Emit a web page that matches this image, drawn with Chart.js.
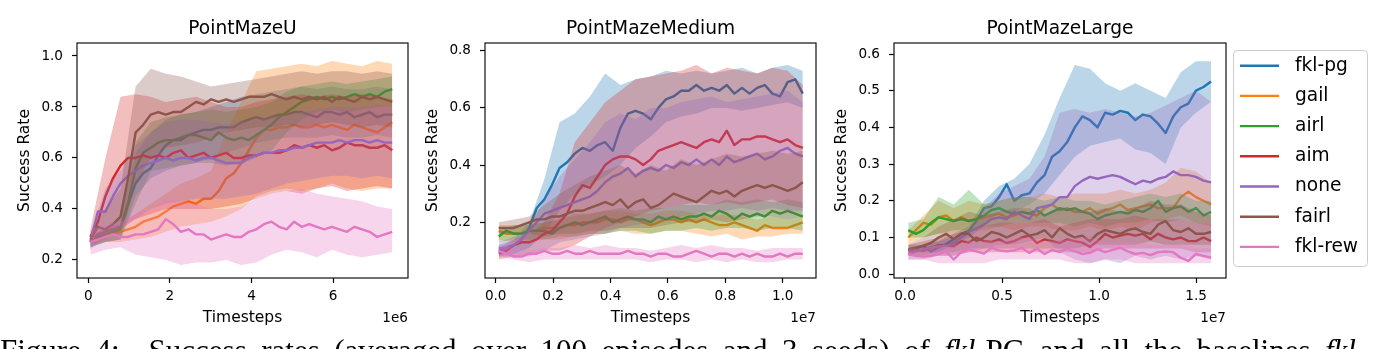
<!DOCTYPE html>
<html lang="en">
<head>
<meta charset="UTF-8">
<title>PointMaze success rates</title>
<script src="https://cdn.jsdelivr.net/npm/chart.js@4"></script>
<style>
  html, body { margin: 0; padding: 0; background: #fff; }
  body { width: 1380px; height: 349px; position: relative; overflow: hidden; }
  canvas { position: absolute; top: 0; }
  #caption {
    position: absolute; left: 0; top: 337px; width: 1356px;
    font-family: "Liberation Serif", serif; font-size: 31px; line-height: 28px;
    white-space: nowrap; text-align: justify; text-align-last: justify; color: #000;
  }
</style>
</head>
<body>
<canvas id="mazeU"></canvas>
<canvas id="mazeMedium"></canvas>
<canvas id="mazeLarge"></canvas>
<div id="caption">Figure 4:&nbsp; Success rates (averaged over 100 episodes and 3 seeds) of <i>fkl</i>-PG and all the baselines <i>fkl</i></div>
<script>
// series, in the order matplotlib drew them
const seriesNames = ['fkl-pg', 'gail', 'airl', 'aim', 'none', 'fairl', 'fkl-rew'];
const seriesColors = ['#1f77b4', '#ff7f0e', '#2ca02c', '#d62728', '#9467bd', '#8c564b', '#e377c2'];

// ---- PointMazeU : first / last evaluated timestep, ticks
const uSteps = [0.05e6, 7.45e6];
const uXTicks = [0, 2e6, 4e6, 6e6];
const uYTicks = [0.2, 0.4, 0.6, 0.8, 1.0];
// mean success rate (41 evaluations)
const uFklPg  = [0.27,0.30,0.31,0.32,0.33,0.42,0.50,0.54,0.56,0.61,0.65,0.67,0.67,0.69,0.70,0.71,0.71,0.72,0.72,0.72,0.74,0.75,0.76,0.75,0.76,0.77,0.77,0.78,0.78,0.77,0.76,0.78,0.78,0.77,0.78,0.76,0.77,0.78,0.76,0.77,0.77];
const uGail   = [0.28,0.29,0.30,0.30,0.31,0.32,0.33,0.35,0.36,0.37,0.39,0.41,0.42,0.43,0.42,0.44,0.44,0.47,0.52,0.54,0.58,0.63,0.68,0.71,0.71,0.72,0.72,0.73,0.72,0.72,0.73,0.72,0.73,0.72,0.71,0.73,0.72,0.71,0.70,0.72,0.74];
const uAirl   = [0.27,0.29,0.30,0.31,0.32,0.42,0.56,0.62,0.64,0.66,0.67,0.67,0.68,0.69,0.69,0.68,0.67,0.70,0.68,0.67,0.68,0.67,0.69,0.71,0.73,0.76,0.78,0.80,0.82,0.83,0.84,0.83,0.84,0.83,0.84,0.85,0.84,0.85,0.84,0.86,0.87];
const uAim    = [0.29,0.35,0.45,0.52,0.57,0.60,0.60,0.61,0.60,0.61,0.60,0.62,0.63,0.60,0.61,0.62,0.60,0.61,0.62,0.60,0.60,0.61,0.61,0.62,0.62,0.62,0.63,0.65,0.64,0.65,0.64,0.65,0.63,0.64,0.66,0.65,0.65,0.64,0.64,0.65,0.63];
const uNone   = [0.27,0.39,0.39,0.45,0.50,0.53,0.55,0.57,0.58,0.59,0.60,0.59,0.60,0.60,0.59,0.60,0.60,0.59,0.58,0.58,0.58,0.60,0.61,0.62,0.62,0.63,0.63,0.64,0.64,0.65,0.66,0.66,0.66,0.67,0.66,0.67,0.67,0.66,0.67,0.66,0.66];
const uFairl  = [0.28,0.33,0.32,0.34,0.37,0.52,0.70,0.73,0.77,0.78,0.77,0.78,0.78,0.80,0.82,0.81,0.83,0.82,0.83,0.82,0.83,0.84,0.84,0.84,0.85,0.84,0.83,0.84,0.83,0.84,0.83,0.84,0.82,0.84,0.83,0.82,0.84,0.83,0.84,0.83,0.82];
const uFklRew = [0.27,0.28,0.29,0.30,0.29,0.29,0.30,0.30,0.31,0.32,0.36,0.34,0.31,0.32,0.30,0.30,0.28,0.29,0.30,0.29,0.29,0.31,0.32,0.34,0.35,0.33,0.32,0.35,0.33,0.34,0.33,0.32,0.33,0.32,0.31,0.33,0.32,0.31,0.29,0.30,0.31];
// spread across seeds (21 evaluations)
const uFklPgLo  = [0.25,0.27,0.28,0.45,0.52,0.55,0.57,0.58,0.60,0.62,0.64,0.66,0.67,0.68,0.68,0.68,0.69,0.68,0.68,0.69,0.68];
const uFklPgHi  = [0.29,0.33,0.36,0.62,0.70,0.75,0.77,0.78,0.80,0.82,0.84,0.85,0.86,0.87,0.88,0.87,0.88,0.87,0.87,0.88,0.87];
const uGailLo   = [0.26,0.27,0.27,0.28,0.29,0.31,0.33,0.34,0.35,0.37,0.40,0.45,0.47,0.48,0.47,0.48,0.50,0.48,0.47,0.48,0.48];
const uGailHi   = [0.30,0.32,0.34,0.38,0.42,0.46,0.50,0.52,0.55,0.70,0.82,0.94,0.95,0.96,0.97,0.96,0.98,0.97,0.96,0.98,0.97];
const uAirlLo   = [0.25,0.27,0.28,0.42,0.55,0.56,0.57,0.58,0.58,0.57,0.58,0.60,0.63,0.70,0.75,0.78,0.79,0.78,0.79,0.80,0.80];
const uAirlHi   = [0.29,0.32,0.34,0.66,0.74,0.76,0.77,0.78,0.79,0.78,0.79,0.80,0.82,0.86,0.88,0.89,0.90,0.89,0.90,0.91,0.92];
const uAimLo    = [0.26,0.28,0.32,0.36,0.38,0.40,0.40,0.40,0.40,0.41,0.42,0.44,0.46,0.47,0.46,0.48,0.49,0.47,0.48,0.49,0.48];
const uAimHi    = [0.32,0.60,0.84,0.85,0.84,0.82,0.83,0.84,0.82,0.80,0.80,0.82,0.83,0.84,0.85,0.84,0.85,0.84,0.85,0.84,0.83];
const uNoneLo   = [0.24,0.30,0.33,0.36,0.40,0.42,0.43,0.44,0.44,0.44,0.45,0.46,0.48,0.50,0.51,0.52,0.53,0.53,0.52,0.53,0.52];
const uNoneHi   = [0.30,0.48,0.55,0.65,0.70,0.74,0.75,0.75,0.74,0.73,0.74,0.75,0.76,0.77,0.78,0.79,0.80,0.80,0.80,0.81,0.80];
const uFairlLo  = [0.25,0.27,0.28,0.50,0.60,0.64,0.65,0.66,0.68,0.70,0.71,0.72,0.72,0.73,0.72,0.73,0.74,0.73,0.72,0.73,0.72];
const uFairlHi  = [0.31,0.40,0.48,0.88,0.95,0.93,0.92,0.90,0.88,0.89,0.90,0.91,0.92,0.93,0.94,0.93,0.94,0.94,0.93,0.94,0.93];
const uFklRewLo = [0.22,0.24,0.25,0.22,0.21,0.20,0.18,0.19,0.19,0.20,0.18,0.19,0.22,0.24,0.23,0.21,0.24,0.22,0.21,0.22,0.23];
const uFklRewHi = [0.32,0.34,0.35,0.38,0.40,0.44,0.43,0.42,0.40,0.40,0.41,0.44,0.46,0.47,0.48,0.46,0.45,0.44,0.43,0.41,0.40];

// ---- PointMazeMedium
const mSteps = [0.0105e7, 1.07e7];
const mXTicks = [0, 0.2e7, 0.4e7, 0.6e7, 0.8e7, 1.0e7];
const mYTicks = [0.2, 0.4, 0.6, 0.8];
const mFklPg  = [0.10,0.11,0.12,0.14,0.18,0.25,0.28,0.33,0.39,0.41,0.44,0.46,0.45,0.47,0.48,0.45,0.53,0.58,0.59,0.58,0.56,0.60,0.63,0.64,0.66,0.66,0.68,0.66,0.67,0.66,0.68,0.65,0.67,0.65,0.67,0.68,0.65,0.64,0.69,0.70,0.65];
const mGail   = [0.17,0.16,0.16,0.16,0.17,0.17,0.18,0.18,0.18,0.19,0.19,0.20,0.20,0.20,0.21,0.21,0.20,0.21,0.21,0.20,0.19,0.20,0.21,0.21,0.20,0.21,0.20,0.21,0.20,0.19,0.19,0.20,0.19,0.18,0.17,0.19,0.18,0.18,0.18,0.19,0.20];
const mAirl   = [0.15,0.17,0.16,0.16,0.17,0.17,0.17,0.16,0.18,0.19,0.20,0.19,0.20,0.21,0.22,0.20,0.21,0.22,0.21,0.21,0.20,0.22,0.21,0.22,0.21,0.22,0.22,0.23,0.22,0.24,0.23,0.21,0.23,0.22,0.23,0.22,0.24,0.23,0.24,0.23,0.22];
const mAim    = [0.09,0.10,0.12,0.13,0.13,0.14,0.16,0.17,0.20,0.23,0.29,0.33,0.32,0.36,0.40,0.42,0.43,0.43,0.42,0.40,0.42,0.45,0.46,0.47,0.48,0.47,0.46,0.48,0.49,0.48,0.52,0.47,0.49,0.49,0.50,0.50,0.49,0.48,0.49,0.47,0.46];
const mNone   = [0.11,0.11,0.12,0.14,0.17,0.20,0.23,0.24,0.25,0.26,0.27,0.28,0.29,0.31,0.34,0.36,0.37,0.39,0.36,0.38,0.39,0.38,0.40,0.39,0.41,0.40,0.42,0.40,0.42,0.40,0.43,0.41,0.42,0.43,0.44,0.42,0.43,0.45,0.46,0.44,0.43];
const mFairl  = [0.18,0.18,0.18,0.19,0.20,0.21,0.21,0.22,0.22,0.23,0.24,0.24,0.25,0.26,0.27,0.26,0.28,0.25,0.27,0.28,0.25,0.26,0.28,0.30,0.29,0.28,0.27,0.29,0.31,0.30,0.31,0.29,0.31,0.32,0.33,0.32,0.33,0.32,0.31,0.32,0.34];
const mFklRew = [0.10,0.09,0.08,0.08,0.09,0.09,0.10,0.09,0.09,0.10,0.09,0.09,0.10,0.09,0.09,0.09,0.09,0.10,0.09,0.09,0.08,0.09,0.09,0.08,0.08,0.09,0.10,0.09,0.08,0.09,0.09,0.08,0.09,0.08,0.09,0.08,0.08,0.09,0.08,0.09,0.09];
const mFklPgLo  = [0.08,0.09,0.11,0.16,0.24,0.30,0.33,0.36,0.40,0.46,0.50,0.55,0.57,0.58,0.60,0.60,0.59,0.60,0.61,0.62,0.60];
const mFklPgHi  = [0.12,0.14,0.20,0.35,0.55,0.58,0.64,0.72,0.68,0.70,0.71,0.73,0.72,0.73,0.72,0.73,0.74,0.72,0.74,0.75,0.73];
const mGailLo   = [0.14,0.13,0.13,0.14,0.14,0.15,0.16,0.16,0.17,0.16,0.16,0.17,0.17,0.16,0.15,0.16,0.14,0.15,0.15,0.16,0.16];
const mGailHi   = [0.19,0.19,0.19,0.20,0.21,0.22,0.23,0.24,0.24,0.23,0.23,0.24,0.24,0.23,0.22,0.23,0.22,0.21,0.22,0.21,0.22];
const mAirlLo   = [0.13,0.14,0.14,0.14,0.15,0.15,0.16,0.16,0.17,0.17,0.16,0.17,0.17,0.18,0.17,0.18,0.18,0.17,0.18,0.18,0.17];
const mAirlHi   = [0.17,0.19,0.19,0.20,0.21,0.23,0.23,0.24,0.25,0.24,0.25,0.25,0.26,0.26,0.26,0.28,0.27,0.28,0.27,0.28,0.27];
const mAimLo    = [0.07,0.08,0.09,0.10,0.10,0.12,0.15,0.18,0.20,0.22,0.24,0.25,0.26,0.27,0.26,0.27,0.26,0.27,0.28,0.26,0.25];
const mAimHi    = [0.11,0.14,0.16,0.20,0.30,0.48,0.55,0.62,0.66,0.70,0.71,0.72,0.73,0.75,0.72,0.74,0.73,0.72,0.74,0.73,0.68];
const mNoneLo   = [0.08,0.08,0.08,0.10,0.13,0.14,0.15,0.16,0.18,0.19,0.20,0.21,0.22,0.23,0.24,0.24,0.25,0.24,0.25,0.24,0.24];
const mNoneHi   = [0.13,0.15,0.18,0.28,0.36,0.42,0.48,0.55,0.58,0.56,0.60,0.60,0.62,0.63,0.64,0.62,0.63,0.64,0.65,0.66,0.62];
const mFairlLo  = [0.16,0.16,0.16,0.15,0.16,0.16,0.17,0.17,0.18,0.18,0.18,0.19,0.20,0.20,0.21,0.20,0.21,0.22,0.22,0.21,0.22];
const mFairlHi  = [0.20,0.21,0.22,0.26,0.30,0.33,0.36,0.38,0.40,0.37,0.40,0.38,0.42,0.40,0.42,0.44,0.43,0.44,0.45,0.44,0.45];
const mFklRewLo = [0.08,0.07,0.06,0.07,0.07,0.07,0.07,0.07,0.07,0.07,0.06,0.07,0.07,0.06,0.07,0.06,0.07,0.06,0.06,0.07,0.07];
const mFklRewHi = [0.12,0.11,0.10,0.11,0.11,0.12,0.11,0.12,0.11,0.11,0.10,0.11,0.12,0.11,0.12,0.11,0.11,0.10,0.11,0.11,0.11];

// ---- PointMazeLarge
const lSteps = [0.017e7, 1.577e7];
const lXTicks = [0, 0.5e7, 1.0e7, 1.5e7];
const lYTicks = [0.0, 0.1, 0.2, 0.3, 0.4, 0.5, 0.6];
const lFklPg  = [0.068,0.072,0.077,0.062,0.073,0.082,0.095,0.11,0.118,0.145,0.18,0.185,0.21,0.245,0.20,0.215,0.22,0.25,0.27,0.32,0.335,0.36,0.40,0.43,0.42,0.40,0.44,0.435,0.445,0.44,0.42,0.435,0.43,0.41,0.385,0.43,0.455,0.465,0.50,0.51,0.525];
const lGail   = [0.10,0.12,0.14,0.135,0.155,0.16,0.145,0.155,0.145,0.15,0.155,0.16,0.165,0.155,0.16,0.17,0.165,0.16,0.18,0.19,0.175,0.18,0.17,0.17,0.18,0.165,0.175,0.18,0.19,0.175,0.18,0.185,0.19,0.18,0.18,0.18,0.21,0.225,0.21,0.20,0.19];
const lAirl   = [0.12,0.11,0.12,0.14,0.155,0.15,0.145,0.15,0.145,0.15,0.16,0.175,0.18,0.17,0.165,0.17,0.165,0.175,0.16,0.17,0.18,0.175,0.18,0.17,0.165,0.15,0.16,0.165,0.17,0.165,0.175,0.17,0.18,0.20,0.17,0.18,0.185,0.17,0.18,0.16,0.17];
const lAim    = [0.065,0.068,0.064,0.072,0.08,0.078,0.076,0.09,0.086,0.10,0.09,0.088,0.095,0.085,0.09,0.10,0.105,0.085,0.095,0.09,0.085,0.095,0.09,0.086,0.074,0.09,0.11,0.10,0.105,0.11,0.105,0.11,0.095,0.11,0.10,0.095,0.10,0.09,0.09,0.10,0.09];
const lNone   = [0.055,0.062,0.068,0.073,0.075,0.078,0.085,0.10,0.115,0.125,0.135,0.15,0.155,0.15,0.17,0.16,0.15,0.18,0.185,0.19,0.21,0.21,0.24,0.255,0.265,0.26,0.265,0.27,0.265,0.255,0.245,0.255,0.25,0.26,0.265,0.28,0.27,0.27,0.265,0.255,0.25];
const lFairl  = [0.065,0.07,0.078,0.085,0.10,0.11,0.095,0.11,0.11,0.09,0.10,0.115,0.11,0.10,0.11,0.12,0.105,0.11,0.12,0.10,0.125,0.11,0.10,0.105,0.09,0.11,0.12,0.115,0.11,0.12,0.125,0.115,0.11,0.135,0.145,0.12,0.115,0.125,0.11,0.11,0.115];
const lFklRew = [0.055,0.05,0.048,0.05,0.055,0.062,0.04,0.06,0.068,0.062,0.056,0.072,0.065,0.062,0.065,0.072,0.058,0.07,0.055,0.066,0.06,0.07,0.062,0.055,0.058,0.068,0.06,0.066,0.072,0.062,0.055,0.058,0.052,0.06,0.062,0.06,0.045,0.036,0.055,0.05,0.045];
const lFklPgLo  = [0.06,0.06,0.06,0.08,0.10,0.13,0.17,0.17,0.19,0.22,0.27,0.32,0.35,0.36,0.37,0.34,0.33,0.30,0.40,0.44,0.47];
const lFklPgHi  = [0.08,0.08,0.09,0.11,0.13,0.20,0.24,0.26,0.30,0.38,0.48,0.57,0.56,0.52,0.50,0.52,0.50,0.48,0.55,0.58,0.58];
const lGailLo   = [0.08,0.10,0.11,0.11,0.12,0.12,0.13,0.12,0.13,0.13,0.12,0.12,0.13,0.12,0.13,0.12,0.14,0.15,0.16,0.14,0.13];
const lGailHi   = [0.12,0.16,0.20,0.18,0.20,0.19,0.20,0.21,0.21,0.22,0.21,0.22,0.22,0.22,0.23,0.22,0.23,0.25,0.29,0.28,0.25];
const lAirlLo   = [0.10,0.10,0.11,0.12,0.12,0.13,0.13,0.14,0.14,0.14,0.14,0.13,0.14,0.13,0.14,0.14,0.15,0.14,0.15,0.14,0.14];
const lAirlHi   = [0.14,0.15,0.21,0.19,0.23,0.19,0.20,0.21,0.21,0.20,0.21,0.20,0.20,0.19,0.20,0.21,0.22,0.21,0.22,0.20,0.20];
const lAimLo    = [0.05,0.05,0.05,0.05,0.06,0.06,0.06,0.06,0.06,0.06,0.06,0.06,0.06,0.07,0.07,0.07,0.07,0.07,0.07,0.06,0.06];
const lAimHi    = [0.08,0.09,0.10,0.11,0.12,0.13,0.14,0.14,0.14,0.15,0.13,0.14,0.15,0.15,0.15,0.16,0.15,0.15,0.15,0.14,0.14];
const lNoneLo   = [0.04,0.04,0.05,0.05,0.06,0.07,0.08,0.08,0.09,0.10,0.06,0.04,0.03,0.04,0.03,0.05,0.04,0.05,0.04,0.05,0.04];
const lNoneHi   = [0.07,0.08,0.09,0.10,0.12,0.18,0.22,0.24,0.26,0.32,0.44,0.45,0.44,0.45,0.44,0.43,0.44,0.46,0.48,0.50,0.47];
const lFairlLo  = [0.05,0.05,0.06,0.06,0.07,0.07,0.07,0.07,0.07,0.07,0.07,0.07,0.08,0.08,0.08,0.08,0.09,0.08,0.08,0.08,0.08];
const lFairlHi  = [0.08,0.10,0.13,0.15,0.17,0.16,0.17,0.18,0.18,0.16,0.18,0.18,0.17,0.18,0.17,0.18,0.20,0.19,0.19,0.17,0.16];
const lFklRewLo = [0.04,0.04,0.03,0.03,0.03,0.03,0.04,0.04,0.04,0.04,0.04,0.03,0.03,0.04,0.04,0.03,0.03,0.03,0.03,0.03,0.03];
const lFklRewHi = [0.07,0.07,0.08,0.08,0.09,0.09,0.09,0.10,0.10,0.09,0.09,0.10,0.10,0.09,0.09,0.09,0.08,0.08,0.08,0.07,0.07];

const FONT = '"DejaVu Sans", sans-serif';
const AXIS_W = 77;      // room left of the axes box for ticks + y title
const CANVAS_H = 340;

// evaluations are evenly spaced between first and last timestep
function toPoints(steps, values) {
  const dx = (steps[1] - steps[0]) / (values.length - 1);
  return values.map((v, i) => ({ x: steps[0] + i * dx, y: v }));
}

function rgba(hex, a) {
  const n = parseInt(hex.slice(1), 16);
  return `rgba(${n >> 16}, ${(n >> 8) & 255}, ${n & 255}, ${a})`;
}

// frame, panel title, offset text ("1e6") and the legend
const decor = {
  id: 'decor',
  afterDraw(chart, args, opts) {
    const ctx = chart.ctx;
    const a = chart.chartArea;
    ctx.save();
    ctx.strokeStyle = '#111';
    ctx.lineWidth = 1.2;
    ctx.strokeRect(a.left, a.top, a.right - a.left, a.bottom - a.top);

    ctx.fillStyle = '#000';
    ctx.font = '18.6px ' + FONT;
    ctx.textAlign = 'center';
    ctx.textBaseline = 'alphabetic';
    ctx.fillText(opts.title, (a.left + a.right) / 2, 34);

    ctx.font = '13.6px ' + FONT;
    ctx.textAlign = 'right';
    ctx.fillText(opts.offset, a.right, 322);

    if (opts.legend) {
      const lx = a.right + 7, ly = 50, lw = 134, lh = 216;
      ctx.beginPath();
      if (ctx.roundRect) ctx.roundRect(lx + 0.5, ly + 0.5, lw, lh, 4);
      else ctx.rect(lx + 0.5, ly + 0.5, lw, lh);
      ctx.fillStyle = 'rgba(255,255,255,0.8)';
      ctx.fill();
      ctx.strokeStyle = '#cccccc';
      ctx.lineWidth = 1;
      ctx.stroke();
      ctx.font = '18.6px ' + FONT;
      ctx.textAlign = 'left';
      ctx.textBaseline = 'middle';
      seriesNames.forEach((name, k) => {
        const y = 65.7 + 30.2 * k;
        ctx.strokeStyle = seriesColors[k];
        ctx.lineWidth = 2.4;
        ctx.beginPath();
        ctx.moveTo(lx + 7, y);
        ctx.lineTo(lx + 46, y);
        ctx.stroke();
        ctx.fillStyle = '#000';
        ctx.fillText(name, lx + 62, y);
      });
    }
    ctx.restore();
  }
};

const panels = [
  { id: 'mazeU', title: 'PointMazeU', box: [77, 408], padRight: 8,
    xRange: [-0.277e6, 7.836e6], yRange: [0.129, 1.051],
    xTicks: uXTicks, yTicks: uYTicks, unit: 1e6, offset: '1e6', xDec: 0,
    steps: uSteps,
    means: [uFklPg, uGail, uAirl, uAim, uNone, uFairl, uFklRew],
    los: [uFklPgLo, uGailLo, uAirlLo, uAimLo, uNoneLo, uFairlLo, uFklRewLo],
    his: [uFklPgHi, uGailHi, uAirlHi, uAimHi, uNoneHi, uFairlHi, uFklRewHi] },
  { id: 'mazeMedium', title: 'PointMazeMedium', box: [485, 816], padRight: 8,
    xRange: [-0.0373e7, 1.116e7], yRange: [0.005, 0.827],
    xTicks: mXTicks, yTicks: mYTicks, unit: 1e7, offset: '1e7', xDec: 1,
    steps: mSteps,
    means: [mFklPg, mGail, mAirl, mAim, mNone, mFairl, mFklRew],
    los: [mFklPgLo, mGailLo, mAirlLo, mAimLo, mNoneLo, mFairlLo, mFklRewLo],
    his: [mFklPgHi, mGailHi, mAirlHi, mAimHi, mNoneHi, mFairlHi, mFklRewHi] },
  { id: 'mazeLarge', title: 'PointMazeLarge', box: [894, 1226], padRight: 154, legend: true,
    xRange: [-0.0565e7, 1.654e7], yRange: [-0.0104, 0.630],
    xTicks: lXTicks, yTicks: lYTicks, unit: 1e7, offset: '1e7', xDec: 1,
    steps: lSteps,
    means: [lFklPg, lGail, lAirl, lAim, lNone, lFairl, lFklRew],
    los: [lFklPgLo, lGailLo, lAirlLo, lAimLo, lNoneLo, lFairlLo, lFklRewLo],
    his: [lFklPgHi, lGailHi, lAirlHi, lAimHi, lNoneHi, lFairlHi, lFklRewHi] }
];

function buildPanel(p) {
  const canvas = document.getElementById(p.id);
  const width = p.box[1] - p.box[0] + AXIS_W + p.padRight;
  canvas.width = width;
  canvas.height = CANVAS_H;
  canvas.style.left = (p.box[0] - AXIS_W) + 'px';
  canvas.style.width = width + 'px';
  canvas.style.height = CANVAS_H + 'px';

  const datasets = [];
  p.means.forEach((mean, k) => {
    const base = 100 - 10 * k;   // later series drawn on top
    datasets.push({ data: toPoints(p.steps, p.los[k]), borderWidth: 0, borderColor: 'rgba(0,0,0,0)',
                    pointRadius: 0, fill: false, order: base + 2 });
    datasets.push({ data: toPoints(p.steps, p.his[k]), borderWidth: 0, borderColor: 'rgba(0,0,0,0)',
                    pointRadius: 0, fill: '-1', backgroundColor: rgba(seriesColors[k], 0.3), order: base + 1 });
    datasets.push({ label: seriesNames[k], data: toPoints(p.steps, mean), borderColor: seriesColors[k],
                    borderWidth: 2.4, borderJoinStyle: 'round', pointRadius: 0, fill: false, order: base });
  });

  const tickGrid = { display: true, drawOnChartArea: false, drawTicks: true,
                     tickLength: 5, tickWidth: 1.2, tickColor: '#000' };

  new Chart(canvas, {
    type: 'line',
    data: { datasets },
    options: {
      responsive: false,
      animation: false,
      devicePixelRatio: 1,
      layout: { padding: { top: 43, left: 0, right: p.padRight, bottom: 0 } },
      plugins: {
        legend: { display: false },
        tooltip: { enabled: false },
        decor: { title: p.title, offset: p.offset, legend: !!p.legend }
      },
      scales: {
        x: {
          type: 'linear', min: p.xRange[0], max: p.xRange[1],
          afterBuildTicks: s => { s.ticks = p.xTicks.map(v => ({ value: v })); },
          afterFit: s => { s.height = CANVAS_H - 278; },
          grid: tickGrid,
          border: { display: false },
          ticks: { font: { family: FONT, size: 13.6 }, color: '#000', padding: 5,
                   maxRotation: 0, autoSkip: false,
                   callback: v => (v / p.unit).toFixed(p.xDec) },
          title: { display: true, text: 'Timesteps', color: '#000',
                   font: { family: FONT, size: 15.5 }, padding: { top: 0, bottom: 12.3 } }
        },
        y: {
          type: 'linear', min: p.yRange[0], max: p.yRange[1],
          afterBuildTicks: s => { s.ticks = p.yTicks.map(v => ({ value: v })); },
          afterFit: s => { s.width = AXIS_W; },
          grid: tickGrid,
          border: { display: false },
          ticks: { font: { family: FONT, size: 13.6 }, color: '#000', padding: 9,
                   autoSkip: false, callback: v => v.toFixed(1) },
          title: { display: true, text: 'Success Rate', color: '#000',
                   font: { family: FONT, size: 15.5 }, padding: { top: 16, bottom: 0 } }
        }
      }
    },
    plugins: [decor]
  });
}

panels.forEach(buildPanel);
</script>
</body>
</html>
